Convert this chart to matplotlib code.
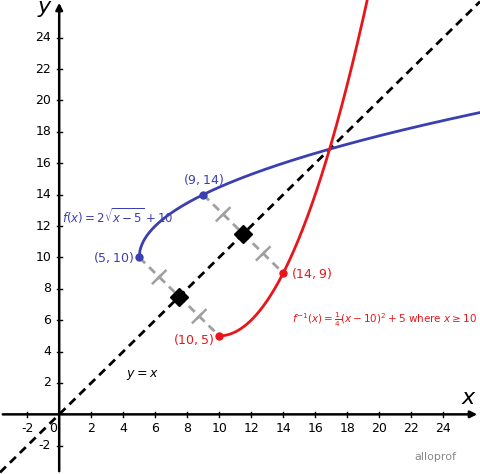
import numpy as np
import matplotlib
matplotlib.use("Agg")
import matplotlib.pyplot as plt

xticks = [-2, 2, 4, 6, 8, 10, 12, 14, 16, 18, 20, 22, 24]
yticks = [-2, 2, 4, 6, 8, 10, 12, 14, 16, 18, 20, 22, 24]
f_pts = [(5, 10), (9, 14)]
finv_pts = [(10, 5), (14, 9)]
mids = [(7.5, 7.5), (11.5, 11.5)]

blue = "#3b3fb0"
red = "#e8161b"
fig = plt.figure(figsize=(4.8, 4.74), dpi=100)
ax = fig.add_axes([0, 0, 1, 1])
ax.set_xlim(-3.7, 26.3)
ax.set_ylim(-3.8, 26.4)
ax.axis("off")

ax.annotate("", xy=(26.3, 0), xytext=(-3.7, 0), arrowprops=dict(arrowstyle="-|>", color="black", lw=1.8))
ax.annotate("", xy=(0, 26.4), xytext=(0, -3.8), arrowprops=dict(arrowstyle="-|>", color="black", lw=1.8))
ax.text(25.6, 0.4, "$x$", fontsize=16, ha="center", va="bottom")
ax.text(-0.9, 25.8, "$y$", fontsize=16, ha="center", va="center")
for t in xticks:
    ax.plot([t, t], [-0.15, 0.15], color="black", lw=1)
    ax.text(t, -0.5, str(t), ha="center", va="top", fontsize=9)
for t in yticks:
    ax.plot([-0.15, 0.15], [t, t], color="black", lw=1)
    ax.text(-0.5, t, str(t), ha="right", va="center", fontsize=9)
ax.text(-0.35, -0.5, "0", ha="center", va="top", fontsize=9)

xs = np.linspace(-3.7, 26.3, 10)
ax.plot(xs, xs, "k--", lw=2, dashes=(3, 2))
ax.text(4.2, 2.4, "$y=x$", fontsize=9)

x1 = np.linspace(5, 27, 500)
ax.plot(x1, 2 * np.sqrt(x1 - 5) + 10, color=blue, lw=2)
x2 = np.linspace(10, 20, 500)
ax.plot(x2, 0.25 * (x2 - 10) ** 2 + 5, color=red, lw=2)

for (p, q) in [((5, 10), (10, 5)), ((9, 14), (14, 9))]:
    ax.plot([p[0], q[0]], [p[1], q[1]], color="#a0a0a0", lw=2, ls="--", dashes=(3, 2), zorder=2)
    for fr in (0.25, 0.75):
        cx = p[0] + (q[0] - p[0]) * fr
        cy = p[1] + (q[1] - p[1]) * fr
        for off in (-0.15, 0.15):
            ax.plot([cx + off - 0.25, cx + off + 0.25], [cy + off - 0.25, cy + off + 0.25], color="#a0a0a0", lw=1.8)
for m in mids:
    ax.plot(*m, marker="D", color="black", ms=9, zorder=5)

for p in f_pts:
    ax.plot(*p, "o", color=blue, ms=5)
for p in finv_pts:
    ax.plot(*p, "o", color=red, ms=5)
ax.text(4.7, 10, "$(5, 10)$", color=blue, ha="right", va="center", fontsize=9)
ax.text(9, 14.5, "$(9, 14)$", color=blue, ha="center", va="bottom", fontsize=9)
ax.text(9.7, 4.8, "$(10, 5)$", color=red, ha="right", va="center", fontsize=9)
ax.text(14.5, 9, "$(14, 9)$", color=red, ha="left", va="center", fontsize=9)
ax.text(0.2, 12.6, r"$f(x)=2\sqrt{x-5}+10$", color=blue, fontsize=8.5, va="center")
ax.text(26.1, 6.0, r"$f^{-1}(x)=\frac{1}{4}(x-10)^2+5$ where $x\geq10$", color=red, fontsize=7.5, va="center", ha="right")
ax.text(23.5, -2.9, "alloprof", color="#888888", fontsize=8, ha="center")
fig.savefig("out.png", dpi=100)
